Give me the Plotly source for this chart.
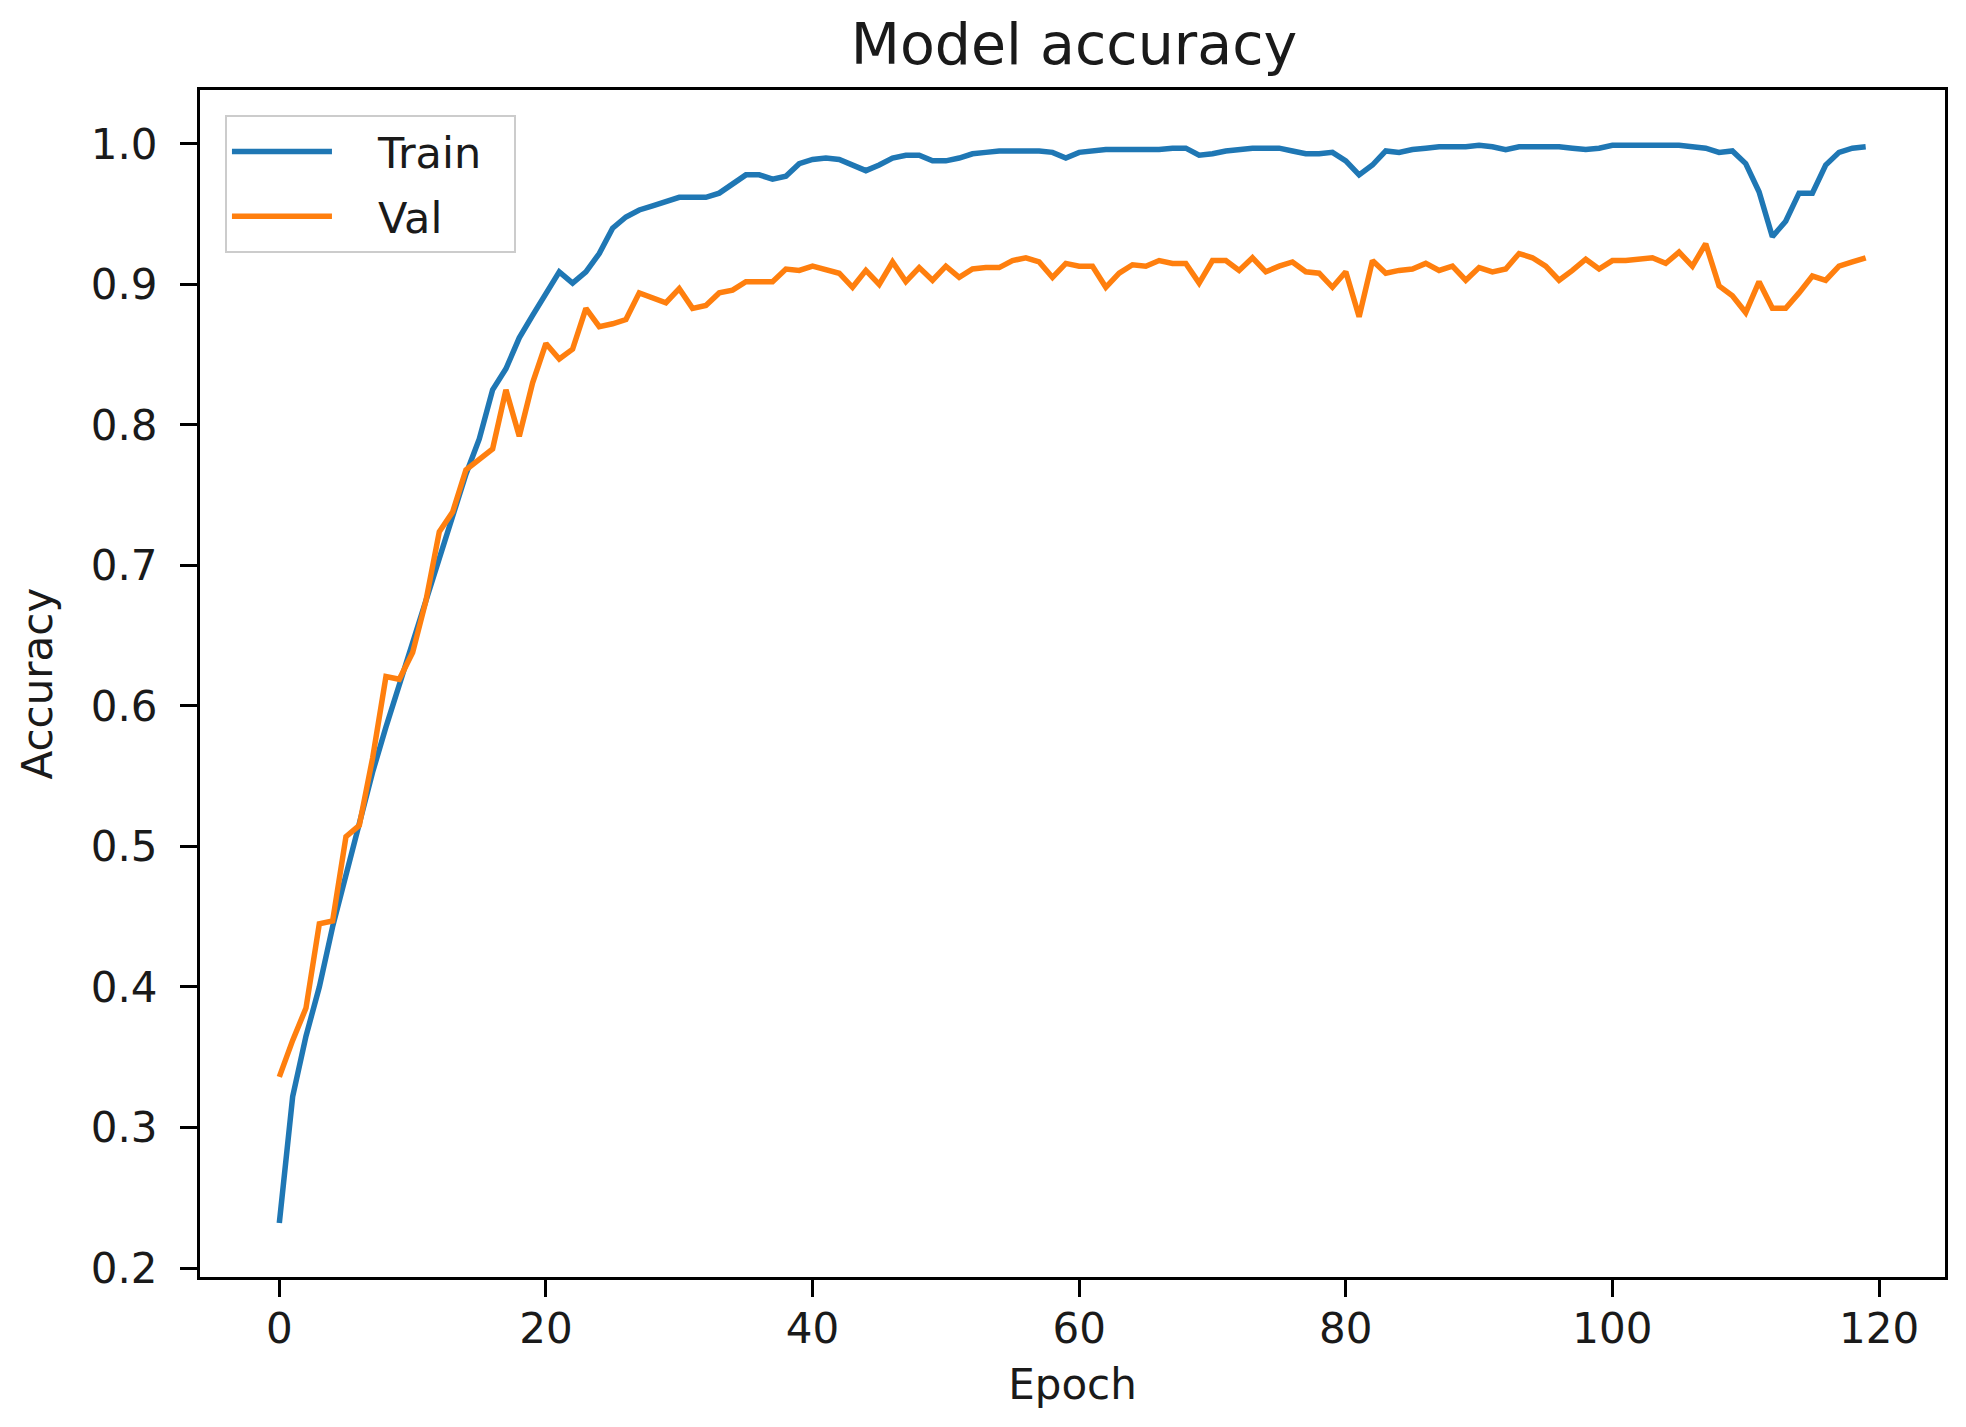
import plotly.graph_objects as go

epochs = list(range(120))

train_acc = [
    0.232, 0.322, 0.365, 0.400, 0.443, 0.480, 0.515, 0.553, 0.585, 0.615,
    0.645, 0.675, 0.705, 0.735, 0.765, 0.790, 0.825, 0.840, 0.862, 0.878,
    0.893, 0.909, 0.901, 0.909, 0.922, 0.940, 0.948, 0.953, 0.956, 0.959,
    0.962, 0.962, 0.962, 0.965, 0.971, 0.978, 0.978, 0.975, 0.977, 0.986,
    0.989, 0.990, 0.989, 0.985, 0.981, 0.985, 0.990, 0.992, 0.992, 0.988,
    0.988, 0.990, 0.993, 0.994, 0.995, 0.995, 0.995, 0.995, 0.994, 0.990,
    0.994, 0.995, 0.996, 0.996, 0.996, 0.996, 0.996, 0.997, 0.997, 0.992,
    0.993, 0.995, 0.996, 0.997, 0.997, 0.997, 0.995, 0.993, 0.993, 0.994,
    0.988, 0.978, 0.985, 0.995, 0.994, 0.996, 0.997, 0.998, 0.998, 0.998,
    0.999, 0.998, 0.996, 0.998, 0.998, 0.998, 0.998, 0.997, 0.996, 0.997,
    0.999, 0.999, 0.999, 0.9995, 0.9995, 0.999, 0.998, 0.997, 0.994, 0.995,
    0.986, 0.966, 0.934, 0.945, 0.965, 0.965, 0.985, 0.994, 0.997, 0.998,
]

val_acc = [
    0.336, 0.362, 0.385, 0.445, 0.447, 0.507, 0.515, 0.563, 0.621, 0.619,
    0.638, 0.675, 0.724, 0.738, 0.768, 0.776, 0.783, 0.825, 0.792, 0.830,
    0.858, 0.847, 0.854, 0.883, 0.870, 0.872, 0.875, 0.894, 0.890, 0.887,
    0.897, 0.883, 0.885, 0.894, 0.896, 0.902, 0.902, 0.902, 0.911, 0.910,
    0.913, 0.911, 0.908, 0.898, 0.910, 0.900, 0.916, 0.902, 0.912, 0.903,
    0.913, 0.905, 0.911, 0.912, 0.912, 0.917, 0.919, 0.916, 0.905, 0.915,
    0.913, 0.913, 0.898, 0.908, 0.914, 0.913, 0.917, 0.915, 0.915, 0.901,
    0.917, 0.917, 0.910, 0.919, 0.909, 0.913, 0.916, 0.909, 0.908, 0.898,
    0.909, 0.877, 0.917, 0.908, 0.910, 0.911, 0.915, 0.910, 0.913, 0.903,
    0.912, 0.909, 0.911, 0.922, 0.919, 0.913, 0.903, 0.910, 0.918, 0.911,
    0.917, 0.917, 0.918, 0.919, 0.915, 0.923, 0.913, 0.929, 0.899, 0.892,
    0.880, 0.902, 0.883, 0.883, 0.894, 0.906, 0.903, 0.913, 0.916, 0.919,
]

x_ticks = [0, 20, 40, 60, 80, 100, 120]
y_ticks = [0.2, 0.3, 0.4, 0.5, 0.6, 0.7, 0.8, 0.9, 1.0]
y_tick_labels = ["0.2", "0.3", "0.4", "0.5", "0.6", "0.7", "0.8", "0.9", "1.0"]

FONT = "DejaVu Sans"
TXT = "#1a1a1a"
# the page body adds an 8px margin; the figure is sized and offset to compensate
OFF = 8
W, H = 1950, 1411
L, T = 200 - OFF, 90 - OFF
R = W - (1948 - OFF)
B = H - (1277 - OFF)
NB = "\u00a0"

fig = go.Figure()
fig.add_trace(go.Scatter(x=epochs, y=train_acc, mode="lines", name=NB * 3 + "Train" + NB * 2,
                         legendgroup="train",
                         line=dict(color="#1f77b4", width=5.5)))
fig.add_trace(go.Scatter(x=epochs, y=val_acc, mode="lines", name=NB * 3 + "Val",
                         legendgroup="val",
                         line=dict(color="#ff7f0e", width=5.5)))

axis_common = dict(
    showline=True, linecolor="black", linewidth=3, mirror=True,
    showgrid=False, zeroline=False,
    ticks="outside", ticklen=17, tickwidth=2.5, tickcolor="black",
    tickfont=dict(family=FONT, size=42, color=TXT),
)

fig.update_layout(
    width=W, height=H,
    margin=dict(l=L, r=R, t=T, b=B),
    paper_bgcolor="white", plot_bgcolor="white",
    font=dict(family=FONT, color=TXT),
    title=dict(text="Model accuracy", x=(L + (W - L - R) / 2) / W, xanchor="center",
               y=1 - (44 - OFF) / H, yanchor="middle", yref="container",
               font=dict(family=FONT, size=57, color=TXT)),
    xaxis=dict(range=[-5.95, 124.95], tickvals=x_ticks, ticklabelstandoff=-4,
               title=dict(text="Epoch", font=dict(family=FONT, size=42, color=TXT), standoff=18),
               **axis_common),
    yaxis=dict(range=[0.1936, 1.0384], tickvals=y_ticks, ticktext=y_tick_labels,
               ticklabelstandoff=14,
               **axis_common),
    legend=dict(x=0.0143, y=0.979, xanchor="left", yanchor="top",
                bgcolor="rgba(255,255,255,0.8)", bordercolor="#cccccc", borderwidth=2,
                font=dict(family=FONT, size=43, color=TXT),
                itemwidth=100, tracegroupgap=6),
    showlegend=True,
    annotations=[dict(text="Accuracy", textangle=-90, xref="paper", yref="paper",
                      x=0, y=0.5, xanchor="center", yanchor="middle",
                      xshift=-(200 - 37), showarrow=False,
                      font=dict(family=FONT, size=42, color=TXT))],
)

fig.write_html("out.html")
